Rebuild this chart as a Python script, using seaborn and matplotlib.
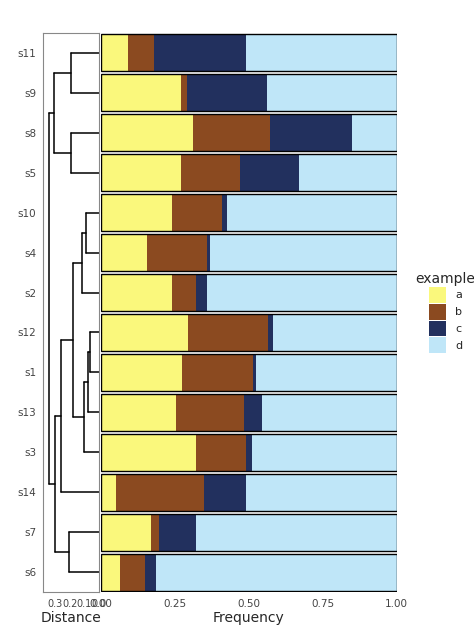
import matplotlib
matplotlib.use('Agg')
import matplotlib.pyplot as plt
import seaborn as sns
import numpy as np

sns.set_style('white')
plt.rcParams['font.family'] = ['DejaVu Sans']

samples = ['s11', 's9', 's8', 's5', 's10', 's4', 's2', 's12', 's1', 's13',
           's3', 's14', 's7', 's6']
# cumulative boundaries
cum_a = [0.09, 0.27, 0.31, 0.27, 0.24, 0.155, 0.24, 0.295, 0.275, 0.255,
         0.32, 0.05, 0.17, 0.065]
cum_b = [0.18, 0.29, 0.57, 0.47, 0.41, 0.36, 0.32, 0.565, 0.515, 0.485,
         0.49, 0.35, 0.195, 0.15]
cum_c = [0.49, 0.56, 0.85, 0.67, 0.425, 0.37, 0.36, 0.58, 0.525, 0.545,
         0.51, 0.49, 0.32, 0.185]
# merges: (left, right, height); ints refer to earlier merges
merges = [('s11', 's9', 0.19), ('s8', 's5', 0.19), (0, 1, 0.305),
          ('s10', 's4', 0.09), (3, 's2', 0.117), ('s12', 's1', 0.062),
          (5, 's13', 0.074), (6, 's3', 0.105), (4, 7, 0.176),
          (8, 's14', 0.262), ('s7', 's6', 0.205), (9, 10, 0.30),
          (2, 11, 0.34)]
groups = ['a', 'b', 'c', 'd']
colors = ['#FAF87C', '#8B4A20', '#22305E', '#BFE6F8']

fig = plt.figure(figsize=(4.74, 6.32), dpi=100)
axd = fig.add_axes([0.091, 0.063, 0.118, 0.885])
axb = fig.add_axes([0.213, 0.063, 0.624, 0.885])

y = np.arange(len(samples))
starts = [np.zeros(len(samples)), np.array(cum_a), np.array(cum_b), np.array(cum_c)]
ends = [np.array(cum_a), np.array(cum_b), np.array(cum_c), np.ones(len(samples))]
for g, c, s, e in zip(groups, colors, starts, ends):
    axb.barh(y, e - s, left=s, height=0.93, color=c, label=g, linewidth=0)
for yi in y:
    axb.add_patch(plt.Rectangle((0, yi - 0.465), 1, 0.93, fill=False,
                                edgecolor='black', linewidth=1.0))
axb.set_xlim(0, 1)
axb.set_ylim(len(samples) - 0.5, -0.5)
axb.set_yticks([])
axb.set_xticks([0, 0.25, 0.5, 0.75, 1.0])
axb.set_xticklabels(['0.00', '0.25', '0.50', '0.75', '1.00'], fontsize=7.5,
                    color='#444444')
axb.tick_params(axis='x', length=3, color='#444444', pad=2)
axb.set_xlabel('Frequency', fontsize=10, labelpad=1)
for sp in axb.spines.values():
    sp.set_visible(False)
axb.legend(title='example', loc='center left', bbox_to_anchor=(1.03, 0.5),
           frameon=False, fontsize=8, title_fontsize=10, handlelength=1.6,
           handleheight=1.8, labelspacing=0.1)

# dendrogram
pos = {s: (i, 0.0) for i, s in enumerate(samples)}
for k, (l, r, h) in enumerate(merges):
    yl, hl = pos[l]
    yr, hr = pos[r]
    axd.plot([hl, h], [yl, yl], color='black', lw=1.1)
    axd.plot([hr, h], [yr, yr], color='black', lw=1.1)
    axd.plot([h, h], [yl, yr], color='black', lw=1.1)
    pos[k] = ((yl + yr) / 2, h)
axd.set_xlim(0.38, 0)
axd.set_ylim(len(samples) - 0.5, -0.5)
axd.set_yticks(y)
axd.set_yticklabels(samples, fontsize=7.5, color='#444444')
axd.set_xticks([0.3, 0.2, 0.1, 0.0])
axd.set_xticklabels(['0.3', '0.2', '0.1', '0.0'], fontsize=7, color='#444444')
axd.tick_params(length=3, color='#444444', pad=2)
axd.set_xlabel('Distance', fontsize=10, labelpad=1)
for sp in axd.spines.values():
    sp.set_color('#888888')
    sp.set_linewidth(0.8)

fig.savefig('out.png', dpi=100)
